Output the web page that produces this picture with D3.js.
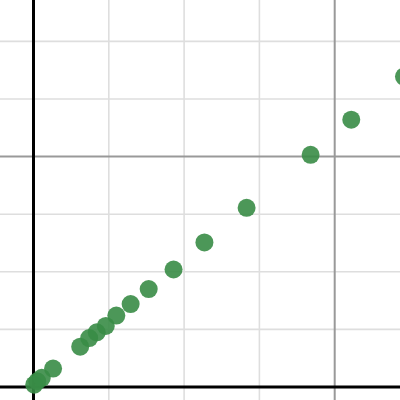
<!DOCTYPE html>
<html>
<head>
<meta charset="utf-8">
<script src="https://cdn.jsdelivr.net/npm/d3@7"></script>
<style>
  html, body { margin: 0; padding: 0; background: #fff; }
  svg { display: block; }
</style>
</head>
<body>
<div id="chart"></div>
<script>
const width = 400, height = 400;

// scatter points (grid units)
const xValues = [0.01, 0.05, 0.11, 0.26, 0.62, 0.74, 0.84, 0.96, 1.10, 1.29, 1.53, 1.86, 2.27, 2.83, 3.68, 4.22, 4.92];
const yValues = [0.04, 0.10, 0.16, 0.32, 0.70, 0.85, 0.95, 1.06, 1.24, 1.44, 1.70, 2.04, 2.51, 3.11, 4.03, 4.64, 5.39];

const minorTicksX = [1, 2, 3, 5];
const majorTicksX = [4];
const minorTicksY = [-4, 1, 2, 3, 5, 6];
const majorTicksY = [4];

const x = d3.scaleLinear()
    .domain([-33.5 / 75.3, (width - 33.5) / 75.3])
    .range([0, width]);

const y = d3.scaleLinear()
    .domain([-(height - 387) / 57.6, 387 / 57.6])
    .range([height, 0]);

const svg = d3.select("#chart")
    .append("svg")
    .attr("width", width)
    .attr("height", height);

svg.append("rect")
    .attr("width", width)
    .attr("height", height)
    .attr("fill", "#fff");

// minor grid
svg.append("g")
    .selectAll("line")
    .data(minorTicksX)
    .enter().append("line")
    .attr("x1", d => x(d)).attr("x2", d => x(d))
    .attr("y1", 0).attr("y2", height)
    .style("stroke", "#dedede")
    .style("stroke-width", 1.6);

svg.append("g")
    .selectAll("line")
    .data(minorTicksY)
    .enter().append("line")
    .attr("y1", d => y(d)).attr("y2", d => y(d))
    .attr("x1", 0).attr("x2", width)
    .style("stroke", "#dedede")
    .style("stroke-width", 1.6);

// major grid
svg.append("g")
    .selectAll("line")
    .data(majorTicksX)
    .enter().append("line")
    .attr("x1", d => x(d)).attr("x2", d => x(d))
    .attr("y1", 0).attr("y2", height)
    .style("stroke", "#999")
    .style("stroke-width", 2);

svg.append("g")
    .selectAll("line")
    .data(majorTicksY)
    .enter().append("line")
    .attr("y1", d => y(d)).attr("y2", d => y(d))
    .attr("x1", 0).attr("x2", width)
    .style("stroke", "#999")
    .style("stroke-width", 2);

// axes
svg.append("line")
    .attr("x1", x(0)).attr("x2", x(0))
    .attr("y1", 0).attr("y2", height)
    .style("stroke", "#000")
    .style("stroke-width", 3);

svg.append("line")
    .attr("y1", y(0)).attr("y2", y(0))
    .attr("x1", 0).attr("x2", width)
    .style("stroke", "#000")
    .style("stroke-width", 3);

// points
svg.append("g")
    .selectAll("circle")
    .data(xValues.map((d, i) => [d, yValues[i]]))
    .enter().append("circle")
    .attr("cx", d => x(d[0]))
    .attr("cy", d => y(d[1]))
    .attr("r", 9)
    .style("fill", "#388c46")
    .style("fill-opacity", 0.9);
</script>
</body>
</html>
